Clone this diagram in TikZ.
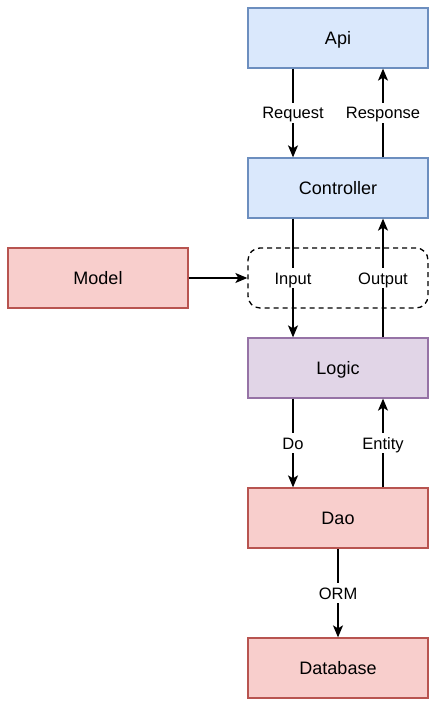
\documentclass[tikz,border=0pt]{standalone}
\usepackage{fontspec}
\setmainfont{Liberation Sans}
\usetikzlibrary{arrows.meta}
\definecolor{blueF}{HTML}{DAE8FC}\definecolor{blueS}{HTML}{6C8EBF}
\definecolor{redF}{HTML}{F8CECC}\definecolor{redS}{HTML}{B85450}
\definecolor{purF}{HTML}{E1D5E7}\definecolor{purS}{HTML}{9673A6}
\tikzset{
  box/.style={draw, line width=1.3pt, minimum width=180pt, minimum height=60pt, inner sep=0pt, text height=13pt, text depth=0pt, font=\fontsize{18}{21}\selectfont},
  bluebox/.style={box, fill=blueF, draw=blueS},
  redbox/.style={box, fill=redF, draw=redS},
  purbox/.style={box, fill=purF, draw=purS},
  arr/.style={-{Stealth[length=12pt,width=10pt,inset=3pt]}, line width=1.3pt},
  lbl/.style={fill=white, inner xsep=2pt, inner ysep=4pt, text height=12pt, text depth=0pt, font=\fontsize{16.5}{19}\selectfont},
}
\begin{document}
\begin{tikzpicture}[x=1pt,y=-1pt]
\useasboundingbox (0,0) rectangle (437,708);
\node[bluebox] (api) at (338,38) {Api};
\node[bluebox] (ctrl) at (338,188) {Controller};
\node[draw, dashed, dash pattern=on 5pt off 4pt, rounded corners=12pt, line width=1.3pt, minimum width=180pt, minimum height=60pt] (io) at (338,278) {};
\node[redbox] (model) at (98,278) {Model};
\node[purbox] (logic) at (338,368) {Logic};
\node[redbox] (dao) at (338,518) {Dao};
\node[redbox] (db) at (338,668) {Database};
\draw[arr] ([xshift=-45pt]api.south) -- ([xshift=-45pt]ctrl.north) node[midway,lbl]{Request};
\draw[arr] ([xshift=45pt]ctrl.north) -- ([xshift=45pt]api.south) node[midway,lbl]{Response};
\draw[arr] ([xshift=-45pt]ctrl.south) -- ([xshift=-45pt]logic.north) node[midway,lbl]{Input};
\draw[arr] ([xshift=45pt]logic.north) -- ([xshift=45pt]ctrl.south) node[midway,lbl]{Output};
\draw[arr] (model.east) -- (io.west);
\draw[arr] ([xshift=-45pt]logic.south) -- ([xshift=-45pt]dao.north) node[midway,lbl]{Do};
\draw[arr] ([xshift=45pt]dao.north) -- ([xshift=45pt]logic.south) node[midway,lbl]{Entity};
\draw[arr] (dao.south) -- (db.north) node[midway,lbl]{ORM};
\end{tikzpicture}
\end{document}
